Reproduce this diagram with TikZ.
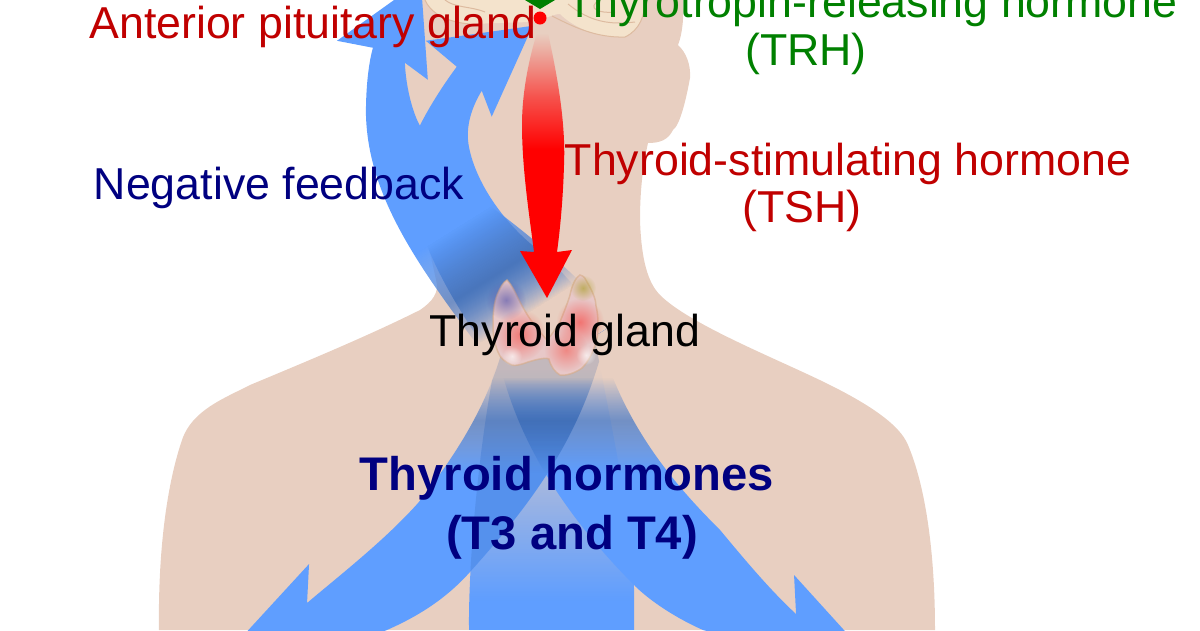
\documentclass[tikz,border=0pt]{standalone}
\usepackage{fontspec}
\setmainfont{Liberation Sans}
\usetikzlibrary{fadings}

\definecolor{skincol}{HTML}{E8CFC1}
\definecolor{bandcol}{HTML}{5F9EFF}
\definecolor{banddark}{HTML}{2F5FA8}
\definecolor{navycol}{HTML}{000080}
\definecolor{redcol}{HTML}{C00000}
\definecolor{greencol}{HTML}{008000}
\definecolor{braincol}{HTML}{F4E3CC}
\definecolor{brainedge}{HTML}{DDBBA0}
\definecolor{glandcol}{HTML}{E8C8C8}

\pgfdeclareverticalshading{rampshade}{100bp}{
    color(0bp)=(pgftransparent!100); color(10bp)=(pgftransparent!100);
    color(30bp)=(pgftransparent!0); color(100bp)=(pgftransparent!0)}
\pgfdeclarefading{rampfade}{\pgfuseshading{rampshade}}
\pgfdeclareverticalshading{bumpshade}{100bp}{
    color(0bp)=(pgftransparent!100); color(10bp)=(pgftransparent!100);
    color(19bp)=(pgftransparent!55); color(30bp)=(pgftransparent!100); color(100bp)=(pgftransparent!100)}
\pgfdeclarefading{bumpfade}{\pgfuseshading{bumpshade}}
\pgfdeclareverticalshading{tshshade}{100bp}{
    color(0bp)=(red); color(53bp)=(red); color(63bp)=(red!60!skincol); color(75bp)=(skincol); color(100bp)=(skincol)}
\tikzfading[name=softblob, inner color=transparent!35, outer color=transparent!100]

\newcommand{\outerpath}{(500,375) .. controls (430,280) and (368,205) .. (366,113)
    .. controls (366,90) and (368,65) .. (373,47) -- (337,40) -- (421,-20) -- (428,79) -- (405,62)
    .. controls (406,85) and (412,110) .. (420,125)
    .. controls (440,165) and (470,190) .. (490,205)
    .. controls (520,228) and (550,250) .. (610,310) -- cycle}
\newcommand{\innerpath}{(510,385) .. controls (455,305) and (420,250) .. (413,190)
    .. controls (410,165) and (412,145) .. (420,125)
    .. controls (430,105) and (445,82) .. (457,66) -- (426,40) -- (533,25) -- (492,116) -- (482,90)
    .. controls (470,110) and (465,130) .. (470,150)
    .. controls (478,185) and (505,222) .. (533,245)
    .. controls (555,262) and (580,290) .. (610,330) -- cycle}
\newcommand{\centrepath}{(500,340) -- (595,340) .. controls (610,420) and (632,520) .. (634,590) -- (634,630)
    -- (469,630) .. controls (468,570) and (478,440) .. (500,340) -- cycle}
\newcommand{\leftpath}{(505,340) .. controls (490,400) and (460,450) .. (418,503)
    .. controls (385,540) and (340,575) .. (307,603) -- (309,564) -- (230,650) -- (330,650)
    .. controls (400,630) and (440,605) .. (469,573)
    .. controls (530,505) and (580,440) .. (605,340) -- cycle}
\newcommand{\rightpath}{(495,340) .. controls (510,430) and (560,510) .. (632,583)
    .. controls (650,602) and (680,620) .. (703,630) -- (780,650) -- (862,650) -- (794,575) -- (796,614)
    .. controls (770,590) and (745,560) .. (720,530)
    .. controls (680,490) and (625,430) .. (600,340) -- cycle}

\begin{document}
\begin{tikzpicture}[
    x=1pt, y=-1pt,
    label/.style={font=\fontsize{44.7}{46}\selectfont, anchor=base, inner sep=0pt},
    boldlabel/.style={font=\fontsize{47.2}{48}\selectfont\bfseries, anchor=base, inner sep=0pt, text=navycol},
    upperband/.style={fill=#1, fit fading=false,
        fading transform={shift={(492,270)}, rotate=32, scale=5.5, yshift=30bp}},
    lowerband/.style n args={3}{fill=#1, fit fading=false,
        fading transform={shift={(547,#2)}, rotate=180, xscale=14, yscale=#3, yshift=30bp}},
    blotch/.style={fill=#1, path fading=softblob},
    gland/.style={fill=glandcol, draw=brown!45!skincol, draw opacity=0.6, line width=1.5pt}
]
\useasboundingbox (0,0) rectangle (1200,630);

% Body
\fill[skincol] (159,630) .. controls (158,560) and (165,490) .. (182,440)
    .. controls (192,410) and (225,398) .. (250,385)
    .. controls (310,360) and (370,335) .. (420,310)
    .. controls (432,302) and (440,292) .. (436,280)
    .. controls (430,250) and (405,150) .. (400,100) -- (400,0) -- (683,0)
    .. controls (684,20) and (682,35) .. (678,45)
    .. controls (686,52) and (691,65) .. (690,78)
    .. controls (686,100) and (680,125) .. (673,130)
    .. controls (668,140) and (660,143) .. (648,143)
    .. controls (643,165) and (640,190) .. (640,220)
    .. controls (641,250) and (645,280) .. (660,295)
    .. controls (690,325) and (780,360) .. (830,385)
    .. controls (870,405) and (900,425) .. (908,445)
    .. controls (925,485) and (935,550) .. (935,630) -- cycle;

% Brain
\fill[braincol] (425,0) .. controls (430,12) and (445,22) .. (470,24)
    -- (530,22) .. controls (545,20) and (552,14) .. (560,14)
    .. controls (572,26) and (595,38) .. (625,37)
    .. controls (640,30) and (645,15) .. (645,0) -- cycle;
\draw[brainedge, line width=1pt] (425,0) .. controls (430,12) and (445,22) .. (470,24);
\draw[brainedge, line width=1pt] (552,16) .. controls (572,26) and (595,38) .. (625,37)
    .. controls (640,30) and (645,15) .. (645,0);
\draw[brainedge, line width=1pt] (445,0) .. controls (455,8) and (470,6) .. (485,12);
\draw[brainedge, line width=1pt] (600,0) .. controls (585,8) and (600,14) .. (615,12);
\draw[brainedge, line width=1pt] (568,4) .. controls (590,22) and (610,25) .. (635,22);

% Negative feedback arrows
\path[upperband=bandcol, path fading=rampfade] \outerpath;
\path[upperband=bandcol, path fading=rampfade] \innerpath;
\path[upperband=banddark, path fading=bumpfade] \outerpath;
\path[upperband=banddark, path fading=bumpfade] \innerpath;

% Thyroid hormone arrows
\path[lowerband={bandcol}{485}{11.5}, path fading=rampfade] \centrepath;
\path[lowerband={bandcol}{425}{4.75}, path fading=rampfade] \leftpath;
\path[lowerband={bandcol}{425}{4.75}, path fading=rampfade] \rightpath;
\path[lowerband={banddark}{425}{4.75}, path fading=bumpfade] \leftpath;
\path[lowerband={banddark}{425}{4.75}, path fading=bumpfade] \rightpath;
\begin{scope}
    \clip \centrepath;
    \fill[banddark, opacity=0.2] \leftpath;
\end{scope}

% Thyroid gland
\path[gland] (507,280) .. controls (512,285) and (515,292) .. (518,298)
    .. controls (524,310) and (530,320) .. (535,325) .. controls (540,332) and (544,337) .. (547,340)
    .. controls (552,335) and (556,328) .. (560,322) .. controls (564,312) and (568,302) .. (570,295)
    .. controls (572,285) and (576,277) .. (580,275) .. controls (584,276) and (586,279) .. (587,282)
    .. controls (593,292) and (596,300) .. (596,306) .. controls (599,318) and (598,330) .. (597,338)
    .. controls (594,352) and (588,362) .. (582,368) .. controls (575,373) and (566,376) .. (560,375)
    .. controls (555,372) and (551,367) .. (549,359) .. controls (545,357) and (535,360) .. (528,362)
    .. controls (520,365) and (515,366) .. (512,365) .. controls (505,362) and (500,358) .. (498,352)
    .. controls (494,342) and (493,334) .. (493,325) .. controls (493,312) and (494,303) .. (497,295)
    .. controls (500,288) and (503,282) .. (507,280) -- cycle;
\path[blotch=blue!35!gray] (506,300) circle (20);
\path[blotch=red!60!skincol] (520,335) circle (26);
\path[blotch=red!65!skincol] (580,322) circle (24);
\path[blotch=red!50!skincol] (566,350) circle (22);
\path[blotch=olive!70!skincol] (583,288) circle (13);
\path[blotch=white] (512,356) circle (10);
\path[blotch=white] (586,355) circle (10);

% Thyroid-stimulating hormone arrow
\shade[shading=tshshade] (537,33) -- (548,33)
    .. controls (556,70) and (566,120) .. (564,165)
    .. controls (563,200) and (560,230) .. (557,252) -- (572,250) -- (547,298) -- (520,251) -- (534,252)
    .. controls (530,220) and (522,170) .. (522,125)
    .. controls (522,90) and (530,55) .. (537,33) -- cycle;

% Pituitary and releasing hormone
\fill[greencol] (525,0) -- (555,0) -- (540,9) -- cycle;
\fill[red] (540,18) circle (6.5);

% Labels
\node[label, text=redcol] (pituitary) at (313,38) {Anterior pituitary gland};
\node[label, text=greencol] (trh) at (872,17) {Thyrotropin-releasing hormone};
\node[label, text=greencol] (trhshort) at (806,65) {(TRH)};
\node[label, text=redcol] (tsh) at (848,175) {Thyroid-stimulating hormone};
\node[label, text=redcol] (tshshort) at (802,222) {(TSH)};
\node[label, text=navycol] (feedback) at (279,199) {Negative feedback};
\node[label, text=black] (glandname) at (565,346) {Thyroid gland};
\node[boldlabel] (hormones) at (567,490) {Thyroid hormones};
\node[boldlabel] (hormonesshort) at (572,549) {(T3 and T4)};

\end{tikzpicture}
\end{document}
